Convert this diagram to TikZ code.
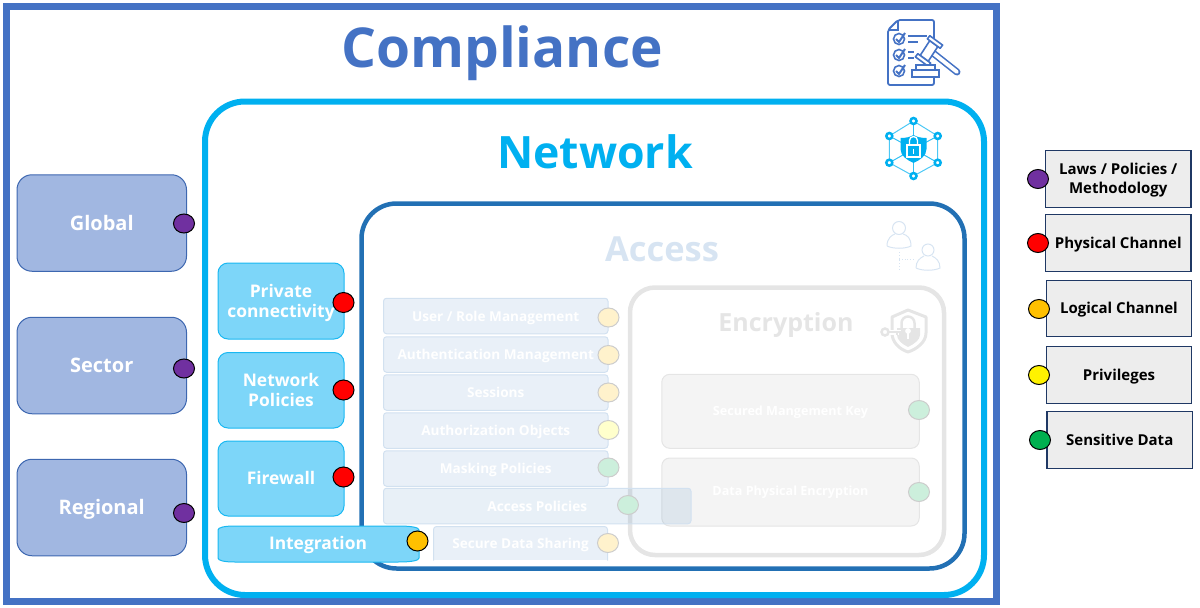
\documentclass[tikz,border=0pt]{standalone}
\usepackage{fontspec}
\setmainfont{Open Sans}
\usetikzlibrary{shapes.geometric}
\definecolor{compblue}{HTML}{4472C4}
\definecolor{netblue}{HTML}{00B0F0}
\definecolor{accblue}{HTML}{2270B4}
\definecolor{acctitle}{HTML}{D7E4F2}
\definecolor{enctitle}{HTML}{E5E5E5}
\definecolor{regfill}{HTML}{A1B7E1}
\definecolor{netfill}{HTML}{7DD6F9}
\definecolor{accfill}{HTML}{E9F0F8}
\definecolor{accline}{HTML}{D2E1F0}
\definecolor{encfill}{HTML}{F4F4F4}
\definecolor{legfill}{HTML}{EDEDED}
\definecolor{legline}{HTML}{1F3864}
\definecolor{purplech}{HTML}{7030A0}
\definecolor{amberch}{HTML}{FFC000}
\definecolor{greench}{HTML}{00B050}
\definecolor{paleamber}{HTML}{FFF2CC}
\definecolor{paleyellow}{HTML}{FFFFCC}
\definecolor{palegreen}{HTML}{CCEFDC}
\tikzset{frame/.style={draw,inner sep=0pt}}
\tikzset{basic/.style={draw,inner sep=0pt,align=center,text=white,font=\bfseries}}
\tikzset{regbox/.style={basic,fill=regfill,draw=compblue!90!black,line width=1pt,rounded corners=15pt,minimum width=169.5pt,minimum height=96.5pt,text height=14.5pt,text depth=0pt,font=\fontsize{20}{24}\selectfont\bfseries}}
\tikzset{netbox/.style={basic,fill=netfill,draw=netblue!90,line width=1pt,rounded corners=10pt,minimum width=126pt}}
\tikzset{nettext/.style={inner sep=0pt,align=center,text=white,font=\fontsize{17.4}{20}\selectfont\bfseries}}
\tikzset{accbox/.style={basic,fill=accfill,draw=accline,line width=1pt,rounded corners=3pt,minimum width=224.5pt,minimum height=35.5pt,text height=10pt,text depth=0pt,font=\fontsize{13.6}{16}\selectfont\bfseries}}
\tikzset{encbox/.style={basic,fill=encfill,draw=enctitle,line width=1pt,rounded corners=8pt,minimum width=257.5pt,text height=7.5pt,text depth=0pt,font=\fontsize{12.6}{14}\selectfont\bfseries}}
\tikzset{legbox/.style={basic,fill=legfill,draw=legline,line width=1.2pt,text=black,minimum width=145.5pt,minimum height=56.5pt,text height=10.5pt,text depth=0pt,font=\fontsize{15}{19}\selectfont\bfseries}}
\tikzset{legtext/.style={inner sep=0pt,align=center,font=\fontsize{15}{19}\selectfont\bfseries}}
\tikzset{chan/.style={ellipse,draw=black,line width=1pt,inner sep=0pt,minimum width=21pt,minimum height=19pt}}
\tikzset{palechan/.style={chan,draw=black!20}}
\tikzset{title/.style={inner sep=0pt,font=\bfseries}}

\begin{document}
\begin{tikzpicture}[x=1pt,y=-1pt]
    \useasboundingbox (0,0) rectangle (1200,608);

    % frames
    \node[frame,draw=compblue,line width=7pt,minimum width=989.5pt,minimum height=595pt] (compliance) at (501.25,304) {};
    \node[frame,draw=netblue,line width=6pt,rounded corners=40pt,minimum width=779pt,minimum height=493.5pt] (network) at (594.5,348.25) {};
    \node[frame,draw=accblue,line width=4.5pt,rounded corners=35pt,minimum width=603pt,minimum height=365pt] (access) at (663,386) {};
    \node[frame,draw=enctitle,line width=4.5pt,rounded corners=25pt,minimum width=314pt,minimum height=267.5pt] (encryption) at (787,421.25) {};

    \node[title,text=compblue,font=\fontsize{55}{60}\selectfont\bfseries] (tcomp) at (502,53.5) {Compliance};
    \node[title,text=netblue,font=\fontsize{44.6}{50}\selectfont\bfseries] (tnet) at (595,152) {Network};
    \node[title,text=acctitle,font=\fontsize{34.5}{36}\selectfont\bfseries] (tacc) at (662,249) {Access};
    \node[title,text=enctitle,font=\fontsize{25}{28}\selectfont\bfseries] (tenc) at (786,325) {Encryption};

    % compliance
    \node[regbox] (global) at (101.75,223) {Global};
    \node[chan,fill=purplech] (global1) at (184,223.5) {};
    \node[regbox] (sector) at (101.75,365.5) {Sector};
    \node[chan,fill=purplech] (sector1) at (184,368.5) {};
    \node[regbox] (regional) at (101.75,507.5) {Regional};
    \node[chan,fill=purplech] (regional1) at (184,513) {};

    % encryption
    \node[encbox,minimum height=74pt] (key) at (790.5,411.3) {Secured Mangement Key};
    \node[palechan,fill=palegreen] (key1) at (919,410) {};
    \node[encbox,minimum height=68pt] (phys) at (790.5,492) {Data Physical Encryption};
    \node[palechan,fill=palegreen] (phys1) at (919,492) {};

    % access
    \node[accbox] (user) at (495.75,316) {User / Role Management};
    \node[palechan,fill=paleamber] (user1) at (608.5,317.5) {};
    \node[accbox] (auth) at (495.75,354.5) {Authentication Management};
    \node[palechan,fill=paleamber] (auth1) at (608.5,355) {};
    \node[accbox] (sess) at (495.75,392.5) {Sessions};
    \node[palechan,fill=paleamber] (sess1) at (608.5,392.5) {};
    \node[accbox] (authz) at (495.75,430.5) {Authorization Objects};
    \node[palechan,fill=paleyellow] (authz1) at (608.5,430) {};
    \node[accbox] (mask) at (495.75,468.5) {Masking Policies};
    \node[palechan,fill=palegreen] (mask1) at (608.5,467.5) {};
    \node[accbox,fill=accblue,fill opacity=0.1,text opacity=1,minimum width=307.5pt] (pol) at (537.25,506) {Access Policies};
    \node[palechan,fill=palegreen] (pol1) at (628,505) {};
    \node[accbox,draw=none,minimum width=173pt,minimum height=33pt,rounded corners=0pt] (share) at (520.5,543.5) {Secure Data Sharing};
    \draw[accline,line width=1pt,rounded corners=3pt] (share.south west) -- (share.north west) -- (share.north east) -- (share.south east);
    \node[palechan,fill=paleamber] (share1) at (608,543) {};

    % network
    \node[netbox,minimum height=76pt] (private) at (281,301) {};
    \node[nettext] (privatetext) at (281,303) {Private\\connectivity};
    \node[chan,fill=red,minimum height=20pt] (private1) at (343.5,302.5) {};
    \node[netbox,minimum height=75.5pt] (netpol) at (281,390.25) {};
    \node[nettext] (netpoltext) at (281,389.5) {Network\\Policies};
    \node[chan,fill=red,minimum height=20pt] (netpol1) at (343.5,390) {};
    \node[netbox,minimum height=75pt,text height=12.5pt,text depth=0pt,font=\fontsize{17.4}{20}\selectfont\bfseries] (firewall) at (281,478.5) {Firewall};
    \node[chan,fill=red,minimum height=20pt] (firewall1) at (343.5,477) {};
    \draw[netblue!90,fill=netfill,line width=1pt] (218,530) .. controls (218,527.5) and (224,526) .. (235,526) -- (398,526) .. controls (412,526) and (419,527.5) .. (419,530) -- (419,558) .. controls (419,560.5) and (412,562) .. (398,562) -- (235,562) .. controls (224,562) and (218,560.5) .. (218,558) -- cycle;
    \node[nettext,text height=12.5pt,text depth=0pt] (integration) at (318,543.5) {Integration};
    \node[chan,fill=amberch,minimum height=20pt] (integration1) at (417.5,541) {};

    % legend
    \node[legbox] (laws) at (1118.25,179) {};
    \node[legtext] (lawstext) at (1118.25,180) {Laws / Policies /\\Methodology};
    \node[chan,fill=purplech] (laws1) at (1038,179) {};
    \node[legbox] (physical) at (1118.25,243) {Physical Channel};
    \node[chan,fill=red] (physical1) at (1038,243) {};
    \node[legbox] (logical) at (1119,308.5) {Logical Channel};
    \node[chan,fill=amberch] (logical1) at (1039,309) {};
    \node[legbox] (priv) at (1119,375) {Privileges};
    \node[chan,fill=yellow] (priv1) at (1039,375) {};
    \node[legbox] (sens) at (1119.75,440) {Sensitive Data};
    \node[chan,fill=greench] (sens1) at (1040,440) {};

    % compliance icon
    \draw[compblue,line width=1.8pt,line join=round,rounded corners=2pt] (934,41) -- (934,20) -- (898,20) -- (888,30) -- (888,85) -- (934,85) -- (934,77);
    \draw[compblue,line width=1.5pt] (898,20) -- (898,30) -- (888,30);
    \foreach \cy in {39,55,71} {
        \draw[compblue,line width=1.6pt] (899,\cy) circle (5.5);
        \draw[compblue,line width=2pt] (896,\cy) -- (899,\cy+3) -- (905,\cy-6);
    }
    \draw[compblue,line width=1.7pt] (908,36) -- (927,36) (908,42) -- (918,42) (908,52) -- (914,52) (908,58) -- (914,58);
    \draw[compblue,line width=7pt,line cap=round] (933,53) -- (957,72);
    \draw[white,line width=3.8pt,line cap=round] (933,53) -- (957,72);
    \draw[compblue,line width=1.6pt,fill=white,line join=round] (937.8,46.6) -- (929.8,40.6) -- (920.2,55.4) -- (928.2,61.4) -- cycle;
    \draw[compblue,line width=1.6pt,fill=white,line join=round] (929.8,35.7) -- (942.6,45.1) -- (940.2,48.3) -- (927.4,38.9) -- cycle;
    \draw[compblue,line width=1.6pt,fill=white,line join=round] (917.8,53.7) -- (930.6,63.1) -- (928.2,66.3) -- (915.4,56.9) -- cycle;
    \draw[compblue,line width=1.6pt,fill=white] (916,65) rectangle (935,70);
    \draw[compblue,line width=1.6pt,fill=white] (912,70) rectangle (939,77);

    % network icon
    \draw[netblue!70,line width=1pt] (913.5,121) -- (937.7,136) -- (937.7,162.7) -- (913.5,176) -- (889.3,162.7) -- (889.3,136) -- cycle;
    \foreach \nx/\ny in {913.5/121,937.7/136,937.7/162.7,913.5/176,889.3/162.7,889.3/136} {
        \draw[netblue!80,line width=1pt] (\nx,\ny) -- (913.5,149);
    }
    \foreach \nx/\ny in {913.5/121,937.7/136,937.7/162.7,913.5/176,889.3/162.7,889.3/136} {
        \draw[netblue,line width=2.5pt,fill=white] (\nx,\ny) circle (3);
    }
    \draw[fill=netblue,draw=none] (900.5,138) .. controls (906,138) and (910,137) .. (913.5,135) .. controls (917,137) and (921,138) .. (926.5,138) -- (926.5,149) .. controls (926.5,156) and (920,160) .. (913.5,163) .. controls (907,160) and (900.5,156) .. (900.5,149) -- cycle;
    \draw[white,line width=1.3pt] (909.5,145) -- (909.5,140.5) arc[start angle=180,end angle=360,radius=4] -- (917.5,145);
    \draw[white,line width=1.3pt] (907,145) rectangle (920,157);
    \draw[white,line width=1.5pt] (913.5,148.5) -- (913.5,153.5);

    % access icon
    \draw[acctitle,line width=1pt] (899,228) circle (6.5);
    \draw[acctitle,line width=1pt] (887,246) .. controls (887,238) and (892,235) .. (895,234) (903,234) .. controls (907,235) and (911,238) .. (911,246) .. controls (905,249) and (893,249) .. (887,246);
    \draw[acctitle,line width=1pt] (928,250) circle (6);
    \draw[acctitle,line width=1pt] (916,268) .. controls (916,261) and (920,258) .. (924,256) (932,256) .. controls (936,258) and (940,261) .. (940,268) .. controls (934,271) and (922,271) .. (916,268);
    \draw[acctitle,line width=0.8pt,dotted] (899,252) -- (899,271) (899,259) -- (915,259);

    % encryption icon
    \draw[enctitle,line width=3pt,line join=round] (908,310) -- (926,317) -- (926,333) .. controls (926,342) and (917,349) .. (908,352) .. controls (899,349) and (892,342) .. (892,333) -- (892,317) -- cycle;
    \draw[enctitle,line width=2.5pt] (901.5,329) -- (901.5,323) arc[start angle=180,end angle=360,radius=6.5] -- (914.5,329);
    \draw[fill=enctitle,draw=none] (897,328) -- (920,328) -- (920,335) .. controls (920,340) and (914,344) .. (908,347) .. controls (902,344) and (897,340) .. (897,335) -- cycle;
    \draw[white,line width=5pt] (887,332) -- (901,332);
    \draw[enctitle,line width=2.5pt] (889,332) -- (902,332) (897,332) -- (897,335) (900.5,332) -- (900.5,335);
    \draw[enctitle,fill=white,line width=2.5pt] (885,332) circle (3.5);
    \draw[white,fill=white] (908,331) circle (2.6);
    \draw[white,line width=2pt] (908,331) -- (908,339);
\end{tikzpicture}
\end{document}
